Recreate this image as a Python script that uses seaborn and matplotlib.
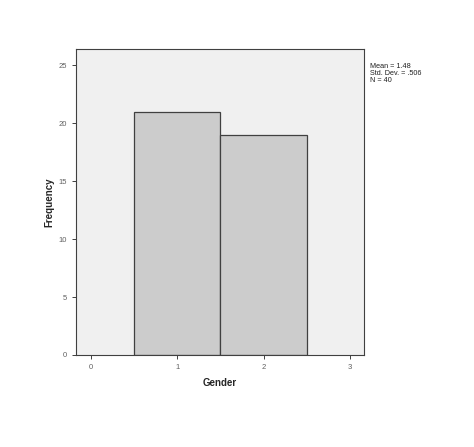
import numpy as np
import pandas as pd
import seaborn as sns
import matplotlib.pyplot as plt

# gender codes and counts
gender_codes = [1, 2]
gender_counts = [21, 19]
bin_edges = [0.5, 1.5, 2.5]
x_ticks = [0, 1, 2, 3]
y_ticks = [0, 5, 10, 15, 20, 25]

df = pd.DataFrame({"Gender": np.repeat(gender_codes, gender_counts)})

sns.set_style("white")
plt.rcParams["font.family"] = ["Liberation Sans", "DejaVu Sans"]

fig = plt.figure(figsize=(4.74, 4.47), dpi=100)
ax = fig.add_axes([0.160, 0.206, 0.608, 0.684])
ax.set_facecolor("#F0F0F0")

sns.histplot(data=df, x="Gender", bins=bin_edges, ax=ax,
             color="#CCCCCC", edgecolor="#404040", linewidth=0.9, alpha=1)

ax.set_xlim(-0.17, 3.16)
ax.set_ylim(0, 26.4)
ax.set_xticks(x_ticks)
ax.set_yticks(y_ticks)
ax.tick_params(axis="both", labelsize=5.5, length=3, width=0.7,
               colors="#404040", labelcolor="#606060", direction="out",
               bottom=True, left=True)
for s in ax.spines.values():
    s.set_color("#404040")
    s.set_linewidth(0.8)

ax.set_xlabel("Gender", fontsize=7, fontweight="bold", labelpad=5)
ax.set_ylabel("Frequency", fontsize=7, fontweight="bold", labelpad=3)

mean = df["Gender"].mean()
sd = df["Gender"].std()
n = len(df)
fig.text(0.781, 0.858, "Mean = %.2f\nStd. Dev. = %s\nN = %d" % (mean, ("%.3f" % sd).lstrip("0"), n),
         fontsize=5.2, va="top", ha="left", linespacing=1.0, color="#202020")

plt.savefig("out.png", dpi=100)
